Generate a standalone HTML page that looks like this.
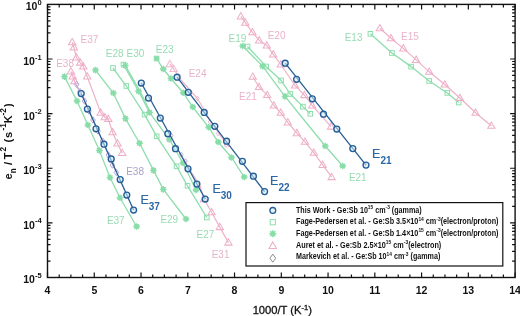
<!DOCTYPE html>
<html><head><meta charset="utf-8"><style>html,body{margin:0;padding:0;background:#fff;}svg{display:block;filter:blur(0.35px);}</style></head>
<body>
<svg width="520" height="316" viewBox="0 0 520 316">
<rect width="520" height="316" fill="#fff"/>
<polyline points="64.5,76.6 77.0,101.0 87.9,125.0 99.4,150.5 110.0,177.5 120.0,197.7 136.6,226.5" fill="none" stroke="#8edead" stroke-width="1.3" stroke-opacity="1"/>
<polyline points="95.5,70.1 113.3,93.0 125.5,118.6 139.6,143.3 153.5,170.4 163.3,189.4 186.0,219.0" fill="none" stroke="#8edead" stroke-width="1.3" stroke-opacity="1"/>
<polyline points="113.0,68.0 126.3,86.0 144.6,114.6 156.7,136.3 176.6,166.3 187.5,185.8 206.8,217.5" fill="none" stroke="#8edead" stroke-width="1.3" stroke-opacity="1"/>
<polyline points="123.5,64.6 138.6,91.2 149.5,112.5 169.4,139.5 183.0,163.0 196.0,190.0" fill="none" stroke="#8edead" stroke-width="1.3" stroke-opacity="1"/>
<polyline points="156.6,58.5 163.3,69.0 170.9,78.5 183.2,92.7 192.8,107.0 208.7,127.3 218.2,142.0 231.5,157.5 244.2,177.0" fill="none" stroke="#8edead" stroke-width="1.3" stroke-opacity="1"/>
<polyline points="247.5,46.5 266.1,66.5 281.1,80.5 290.3,94.0 302.9,106.6 310.3,113.8" fill="none" stroke="#8edead" stroke-width="1.3" stroke-opacity="1"/>
<polyline points="242.7,46.0 262.5,66.1 285.0,96.4 304.5,120.5 325.2,146.0 342.7,166.0" fill="none" stroke="#8edead" stroke-width="1.3" stroke-opacity="1"/>
<polyline points="370.4,33.8 391.9,53.0 411.1,66.6 429.2,81.0 447.3,92.9 458.7,102.5" fill="none" stroke="#8edead" stroke-width="1.3" stroke-opacity="1"/>
<circle cx="64.5" cy="76.6" r="2.31" fill="#88dda8"/>
<path d="M61.20,76.60L67.80,76.60M62.17,74.27L66.83,78.93M64.50,73.30L64.50,79.90M66.83,74.27L62.17,78.93" stroke="#88dda8" stroke-width="1.4"/>
<circle cx="77.0" cy="101.0" r="2.31" fill="#88dda8"/>
<path d="M73.70,101.00L80.30,101.00M74.67,98.67L79.33,103.33M77.00,97.70L77.00,104.30M79.33,98.67L74.67,103.33" stroke="#88dda8" stroke-width="1.4"/>
<circle cx="87.9" cy="125.0" r="2.31" fill="#88dda8"/>
<path d="M84.60,125.00L91.20,125.00M85.57,122.67L90.23,127.33M87.90,121.70L87.90,128.30M90.23,122.67L85.57,127.33" stroke="#88dda8" stroke-width="1.4"/>
<circle cx="99.4" cy="150.5" r="2.31" fill="#88dda8"/>
<path d="M96.10,150.50L102.70,150.50M97.07,148.17L101.73,152.83M99.40,147.20L99.40,153.80M101.73,148.17L97.07,152.83" stroke="#88dda8" stroke-width="1.4"/>
<circle cx="110.0" cy="177.5" r="2.31" fill="#88dda8"/>
<path d="M106.70,177.50L113.30,177.50M107.67,175.17L112.33,179.83M110.00,174.20L110.00,180.80M112.33,175.17L107.67,179.83" stroke="#88dda8" stroke-width="1.4"/>
<circle cx="120.0" cy="197.7" r="2.31" fill="#88dda8"/>
<path d="M116.70,197.70L123.30,197.70M117.67,195.37L122.33,200.03M120.00,194.40L120.00,201.00M122.33,195.37L117.67,200.03" stroke="#88dda8" stroke-width="1.4"/>
<circle cx="136.6" cy="226.5" r="2.31" fill="#88dda8"/>
<path d="M133.30,226.50L139.90,226.50M134.27,224.17L138.93,228.83M136.60,223.20L136.60,229.80M138.93,224.17L134.27,228.83" stroke="#88dda8" stroke-width="1.4"/>
<circle cx="95.5" cy="70.1" r="2.31" fill="#88dda8"/>
<path d="M92.20,70.10L98.80,70.10M93.17,67.77L97.83,72.43M95.50,66.80L95.50,73.40M97.83,67.77L93.17,72.43" stroke="#88dda8" stroke-width="1.4"/>
<circle cx="113.3" cy="93.0" r="2.31" fill="#88dda8"/>
<path d="M110.00,93.00L116.60,93.00M110.97,90.67L115.63,95.33M113.30,89.70L113.30,96.30M115.63,90.67L110.97,95.33" stroke="#88dda8" stroke-width="1.4"/>
<circle cx="125.5" cy="118.6" r="2.31" fill="#88dda8"/>
<path d="M122.20,118.60L128.80,118.60M123.17,116.27L127.83,120.93M125.50,115.30L125.50,121.90M127.83,116.27L123.17,120.93" stroke="#88dda8" stroke-width="1.4"/>
<circle cx="139.6" cy="143.3" r="2.31" fill="#88dda8"/>
<path d="M136.30,143.30L142.90,143.30M137.27,140.97L141.93,145.63M139.60,140.00L139.60,146.60M141.93,140.97L137.27,145.63" stroke="#88dda8" stroke-width="1.4"/>
<circle cx="153.5" cy="170.4" r="2.31" fill="#88dda8"/>
<path d="M150.20,170.40L156.80,170.40M151.17,168.07L155.83,172.73M153.50,167.10L153.50,173.70M155.83,168.07L151.17,172.73" stroke="#88dda8" stroke-width="1.4"/>
<circle cx="163.3" cy="189.4" r="2.31" fill="#88dda8"/>
<path d="M160.00,189.40L166.60,189.40M160.97,187.07L165.63,191.73M163.30,186.10L163.30,192.70M165.63,187.07L160.97,191.73" stroke="#88dda8" stroke-width="1.4"/>
<circle cx="186.0" cy="219.0" r="2.31" fill="#88dda8"/>
<path d="M182.70,219.00L189.30,219.00M183.67,216.67L188.33,221.33M186.00,215.70L186.00,222.30M188.33,216.67L183.67,221.33" stroke="#88dda8" stroke-width="1.4"/>
<rect x="110.7" y="65.7" width="4.6" height="4.6" fill="none" stroke="#8edead" stroke-width="1.0"/>
<rect x="124.0" y="83.7" width="4.6" height="4.6" fill="none" stroke="#8edead" stroke-width="1.0"/>
<rect x="142.3" y="112.3" width="4.6" height="4.6" fill="none" stroke="#8edead" stroke-width="1.0"/>
<rect x="154.4" y="134.0" width="4.6" height="4.6" fill="none" stroke="#8edead" stroke-width="1.0"/>
<rect x="174.3" y="164.0" width="4.6" height="4.6" fill="none" stroke="#8edead" stroke-width="1.0"/>
<rect x="185.2" y="183.5" width="4.6" height="4.6" fill="none" stroke="#8edead" stroke-width="1.0"/>
<rect x="204.5" y="215.2" width="4.6" height="4.6" fill="none" stroke="#8edead" stroke-width="1.0"/>
<rect x="121.2" y="62.3" width="4.6" height="4.6" fill="none" stroke="#8edead" stroke-width="1.0"/>
<circle cx="125.3" cy="65.6" r="2.31" fill="#88dda8"/>
<path d="M122.00,65.60L128.60,65.60M122.97,63.27L127.63,67.93M125.30,62.30L125.30,68.90M127.63,63.27L122.97,67.93" stroke="#88dda8" stroke-width="1.4"/>
<circle cx="138.6" cy="91.2" r="2.31" fill="#88dda8"/>
<path d="M135.30,91.20L141.90,91.20M136.27,88.87L140.93,93.53M138.60,87.90L138.60,94.50M140.93,88.87L136.27,93.53" stroke="#88dda8" stroke-width="1.4"/>
<circle cx="149.5" cy="112.5" r="2.31" fill="#88dda8"/>
<path d="M146.20,112.50L152.80,112.50M147.17,110.17L151.83,114.83M149.50,109.20L149.50,115.80M151.83,110.17L147.17,114.83" stroke="#88dda8" stroke-width="1.4"/>
<circle cx="169.4" cy="139.5" r="2.31" fill="#88dda8"/>
<path d="M166.10,139.50L172.70,139.50M167.07,137.17L171.73,141.83M169.40,136.20L169.40,142.80M171.73,137.17L167.07,141.83" stroke="#88dda8" stroke-width="1.4"/>
<circle cx="183.0" cy="163.0" r="2.31" fill="#88dda8"/>
<path d="M179.70,163.00L186.30,163.00M180.67,160.67L185.33,165.33M183.00,159.70L183.00,166.30M185.33,160.67L180.67,165.33" stroke="#88dda8" stroke-width="1.4"/>
<circle cx="196.0" cy="190.0" r="2.31" fill="#88dda8"/>
<path d="M192.70,190.00L199.30,190.00M193.67,187.67L198.33,192.33M196.00,186.70L196.00,193.30M198.33,187.67L193.67,192.33" stroke="#88dda8" stroke-width="1.4"/>
<polyline points="125.3,65.6 140.2,91.6 150.5,112.5" fill="none" stroke="#8edead" stroke-width="1.3" stroke-opacity="1"/>
<rect x="154.3" y="56.2" width="4.6" height="4.6" fill="#88dda8" stroke="#8edead" stroke-width="1.0"/>
<circle cx="163.3" cy="69.0" r="2.31" fill="#88dda8"/>
<path d="M160.00,69.00L166.60,69.00M160.97,66.67L165.63,71.33M163.30,65.70L163.30,72.30M165.63,66.67L160.97,71.33" stroke="#88dda8" stroke-width="1.4"/>
<circle cx="170.9" cy="78.5" r="2.31" fill="#88dda8"/>
<path d="M167.60,78.50L174.20,78.50M168.57,76.17L173.23,80.83M170.90,75.20L170.90,81.80M173.23,76.17L168.57,80.83" stroke="#88dda8" stroke-width="1.4"/>
<circle cx="183.2" cy="92.7" r="2.31" fill="#88dda8"/>
<path d="M179.90,92.70L186.50,92.70M180.87,90.37L185.53,95.03M183.20,89.40L183.20,96.00M185.53,90.37L180.87,95.03" stroke="#88dda8" stroke-width="1.4"/>
<circle cx="192.8" cy="107.0" r="2.31" fill="#88dda8"/>
<path d="M189.50,107.00L196.10,107.00M190.47,104.67L195.13,109.33M192.80,103.70L192.80,110.30M195.13,104.67L190.47,109.33" stroke="#88dda8" stroke-width="1.4"/>
<circle cx="208.7" cy="127.3" r="2.31" fill="#88dda8"/>
<path d="M205.40,127.30L212.00,127.30M206.37,124.97L211.03,129.63M208.70,124.00L208.70,130.60M211.03,124.97L206.37,129.63" stroke="#88dda8" stroke-width="1.4"/>
<circle cx="218.2" cy="142.0" r="2.31" fill="#88dda8"/>
<path d="M214.90,142.00L221.50,142.00M215.87,139.67L220.53,144.33M218.20,138.70L218.20,145.30M220.53,139.67L215.87,144.33" stroke="#88dda8" stroke-width="1.4"/>
<circle cx="231.5" cy="157.5" r="2.31" fill="#88dda8"/>
<path d="M228.20,157.50L234.80,157.50M229.17,155.17L233.83,159.83M231.50,154.20L231.50,160.80M233.83,155.17L229.17,159.83" stroke="#88dda8" stroke-width="1.4"/>
<circle cx="244.2" cy="177.0" r="2.31" fill="#88dda8"/>
<path d="M240.90,177.00L247.50,177.00M241.87,174.67L246.53,179.33M244.20,173.70L244.20,180.30M246.53,174.67L241.87,179.33" stroke="#88dda8" stroke-width="1.4"/>
<rect x="245.2" y="44.2" width="4.6" height="4.6" fill="none" stroke="#8edead" stroke-width="1.0"/>
<rect x="263.8" y="64.2" width="4.6" height="4.6" fill="none" stroke="#8edead" stroke-width="1.0"/>
<rect x="278.8" y="78.2" width="4.6" height="4.6" fill="none" stroke="#8edead" stroke-width="1.0"/>
<rect x="288.0" y="91.7" width="4.6" height="4.6" fill="none" stroke="#8edead" stroke-width="1.0"/>
<rect x="300.6" y="104.3" width="4.6" height="4.6" fill="none" stroke="#8edead" stroke-width="1.0"/>
<rect x="308.0" y="111.5" width="4.6" height="4.6" fill="none" stroke="#8edead" stroke-width="1.0"/>
<circle cx="242.7" cy="46.0" r="2.31" fill="#88dda8"/>
<path d="M239.40,46.00L246.00,46.00M240.37,43.67L245.03,48.33M242.70,42.70L242.70,49.30M245.03,43.67L240.37,48.33" stroke="#88dda8" stroke-width="1.4"/>
<circle cx="262.5" cy="66.1" r="2.31" fill="#88dda8"/>
<path d="M259.20,66.10L265.80,66.10M260.17,63.77L264.83,68.43M262.50,62.80L262.50,69.40M264.83,63.77L260.17,68.43" stroke="#88dda8" stroke-width="1.4"/>
<circle cx="285.0" cy="96.4" r="2.31" fill="#88dda8"/>
<path d="M281.70,96.40L288.30,96.40M282.67,94.07L287.33,98.73M285.00,93.10L285.00,99.70M287.33,94.07L282.67,98.73" stroke="#88dda8" stroke-width="1.4"/>
<circle cx="325.2" cy="146.0" r="2.31" fill="#88dda8"/>
<path d="M321.90,146.00L328.50,146.00M322.87,143.67L327.53,148.33M325.20,142.70L325.20,149.30M327.53,143.67L322.87,148.33" stroke="#88dda8" stroke-width="1.4"/>
<circle cx="342.7" cy="166.0" r="2.31" fill="#88dda8"/>
<path d="M339.40,166.00L346.00,166.00M340.37,163.67L345.03,168.33M342.70,162.70L342.70,169.30M345.03,163.67L340.37,168.33" stroke="#88dda8" stroke-width="1.4"/>
<rect x="368.1" y="31.5" width="4.6" height="4.6" fill="none" stroke="#8edead" stroke-width="1.0"/>
<rect x="389.6" y="50.7" width="4.6" height="4.6" fill="none" stroke="#8edead" stroke-width="1.0"/>
<rect x="408.8" y="64.3" width="4.6" height="4.6" fill="none" stroke="#8edead" stroke-width="1.0"/>
<rect x="426.9" y="78.7" width="4.6" height="4.6" fill="none" stroke="#8edead" stroke-width="1.0"/>
<rect x="445.0" y="90.6" width="4.6" height="4.6" fill="none" stroke="#8edead" stroke-width="1.0"/>
<rect x="456.4" y="100.2" width="4.6" height="4.6" fill="none" stroke="#8edead" stroke-width="1.0"/>
<polyline points="72.2,42.3 73.9,47.5 76.4,57.5 80.2,62.6 83.3,66.5 87.2,76.5 100.7,112.7 104.8,117.3 108.3,119.0 112.6,132.3 117.4,143.4 122.2,153.0" fill="none" stroke="#eeb0c7" stroke-width="1.15" stroke-opacity="1"/>
<polyline points="169.9,64.2 173.7,69.0 181.0,80.0 197.5,98.5 210.0,120.0 221.0,136.4 229.0,147.0" fill="none" stroke="#eeb0c7" stroke-width="1.15" stroke-opacity="1"/>
<polyline points="178.0,150.0 190.0,170.0 200.0,186.0 204.1,199.2 211.6,212.3 219.8,227.1 228.4,242.6" fill="none" stroke="#eeb0c7" stroke-width="1.15" stroke-opacity="1"/>
<polyline points="240.8,16.4 245.3,22.7 252.4,32.3 259.2,40.4 266.8,45.5 273.2,54.4 280.8,64.5 295.0,85.5 304.4,95.1 312.2,105.5 331.0,126.6" fill="none" stroke="#eeb0c7" stroke-width="1.15" stroke-opacity="1"/>
<polyline points="252.8,76.8 259.0,87.0 267.2,95.0 273.8,105.5 280.8,112.8 287.8,122.4 296.9,133.2 305.0,141.8 313.8,152.7 322.7,164.9 331.6,177.1" fill="none" stroke="#eeb0c7" stroke-width="1.15" stroke-opacity="1"/>
<polyline points="379.9,28.3 391.0,38.3 403.3,48.4 416.2,59.9 429.2,71.8 444.8,84.5 459.9,98.0 475.6,112.7 491.3,125.8" fill="none" stroke="#eeb0c7" stroke-width="1.15" stroke-opacity="1"/>
<polyline points="70.9,71.5 72.7,76.5 74.6,81.2 78.5,90.0" fill="none" stroke="#eeb0c7" stroke-width="1.15" stroke-opacity="1"/>
<path d="M72.2,38.5L75.9,44.8L68.5,44.8Z" fill="none" stroke="#eeb0c7" stroke-width="1.05"/>
<path d="M73.9,43.7L77.6,50.0L70.2,50.0Z" fill="none" stroke="#eeb0c7" stroke-width="1.05"/>
<path d="M76.4,53.7L80.1,60.0L72.8,60.0Z" fill="none" stroke="#eeb0c7" stroke-width="1.05"/>
<path d="M80.2,58.8L83.9,65.1L76.5,65.1Z" fill="none" stroke="#eeb0c7" stroke-width="1.05"/>
<path d="M83.3,62.7L87.0,69.0L79.6,69.0Z" fill="none" stroke="#eeb0c7" stroke-width="1.05"/>
<path d="M87.2,72.7L90.9,79.0L83.5,79.0Z" fill="none" stroke="#eeb0c7" stroke-width="1.05"/>
<path d="M100.7,108.9L104.4,115.2L97.0,115.2Z" fill="none" stroke="#eeb0c7" stroke-width="1.05"/>
<path d="M104.8,113.5L108.5,119.8L101.1,119.8Z" fill="none" stroke="#eeb0c7" stroke-width="1.05"/>
<path d="M108.3,115.2L112.0,121.5L104.6,121.5Z" fill="none" stroke="#eeb0c7" stroke-width="1.05"/>
<path d="M112.6,128.5L116.2,134.8L108.9,134.8Z" fill="none" stroke="#eeb0c7" stroke-width="1.05"/>
<path d="M117.4,139.6L121.1,145.9L113.8,145.9Z" fill="none" stroke="#eeb0c7" stroke-width="1.05"/>
<path d="M122.2,149.2L125.9,155.5L118.5,155.5Z" fill="none" stroke="#eeb0c7" stroke-width="1.05"/>
<path d="M70.9,67.7L74.6,74.0L67.2,74.0Z" fill="none" stroke="#eeb0c7" stroke-width="1.05"/>
<path d="M72.7,72.7L76.4,79.0L69.0,79.0Z" fill="none" stroke="#eeb0c7" stroke-width="1.05"/>
<path d="M74.6,77.4L78.2,83.7L70.9,83.7Z" fill="none" stroke="#eeb0c7" stroke-width="1.05"/>
<path d="M240.8,12.6L244.5,18.9L237.2,18.9Z" fill="none" stroke="#eeb0c7" stroke-width="1.05"/>
<path d="M245.3,18.9L249.0,25.2L241.7,25.2Z" fill="none" stroke="#eeb0c7" stroke-width="1.05"/>
<path d="M252.4,28.5L256.1,34.8L248.8,34.8Z" fill="none" stroke="#eeb0c7" stroke-width="1.05"/>
<path d="M259.2,36.6L262.8,42.9L255.5,42.9Z" fill="none" stroke="#eeb0c7" stroke-width="1.05"/>
<path d="M266.8,41.7L270.4,48.0L263.2,48.0Z" fill="none" stroke="#eeb0c7" stroke-width="1.05"/>
<path d="M273.2,50.6L276.8,56.9L269.6,56.9Z" fill="none" stroke="#eeb0c7" stroke-width="1.05"/>
<path d="M280.8,60.7L284.4,67.0L277.2,67.0Z" fill="none" stroke="#eeb0c7" stroke-width="1.05"/>
<path d="M295.0,81.7L298.6,88.0L291.4,88.0Z" fill="none" stroke="#eeb0c7" stroke-width="1.05"/>
<path d="M304.4,91.3L308.0,97.6L300.8,97.6Z" fill="none" stroke="#eeb0c7" stroke-width="1.05"/>
<path d="M312.2,101.7L315.8,108.0L308.6,108.0Z" fill="none" stroke="#eeb0c7" stroke-width="1.05"/>
<path d="M331.0,122.8L334.6,129.1L327.4,129.1Z" fill="none" stroke="#eeb0c7" stroke-width="1.05"/>
<path d="M252.8,73.0L256.4,79.3L249.2,79.3Z" fill="none" stroke="#eeb0c7" stroke-width="1.05"/>
<path d="M259.0,83.2L262.6,89.5L255.3,89.5Z" fill="none" stroke="#eeb0c7" stroke-width="1.05"/>
<path d="M267.2,91.2L270.8,97.5L263.6,97.5Z" fill="none" stroke="#eeb0c7" stroke-width="1.05"/>
<path d="M273.8,101.7L277.4,108.0L270.2,108.0Z" fill="none" stroke="#eeb0c7" stroke-width="1.05"/>
<path d="M280.8,109.0L284.4,115.3L277.2,115.3Z" fill="none" stroke="#eeb0c7" stroke-width="1.05"/>
<path d="M287.8,118.6L291.4,124.9L284.2,124.9Z" fill="none" stroke="#eeb0c7" stroke-width="1.05"/>
<path d="M296.9,129.4L300.5,135.7L293.2,135.7Z" fill="none" stroke="#eeb0c7" stroke-width="1.05"/>
<path d="M305.0,138.0L308.6,144.3L301.4,144.3Z" fill="none" stroke="#eeb0c7" stroke-width="1.05"/>
<path d="M313.8,148.9L317.4,155.2L310.2,155.2Z" fill="none" stroke="#eeb0c7" stroke-width="1.05"/>
<path d="M322.7,161.1L326.3,167.4L319.1,167.4Z" fill="none" stroke="#eeb0c7" stroke-width="1.05"/>
<path d="M331.6,173.3L335.2,179.6L328.0,179.6Z" fill="none" stroke="#eeb0c7" stroke-width="1.05"/>
<path d="M379.9,24.5L383.5,30.8L376.2,30.8Z" fill="none" stroke="#eeb0c7" stroke-width="1.05"/>
<path d="M391.0,34.5L394.6,40.8L387.4,40.8Z" fill="none" stroke="#eeb0c7" stroke-width="1.05"/>
<path d="M403.3,44.6L406.9,50.9L399.7,50.9Z" fill="none" stroke="#eeb0c7" stroke-width="1.05"/>
<path d="M416.2,56.1L419.8,62.4L412.6,62.4Z" fill="none" stroke="#eeb0c7" stroke-width="1.05"/>
<path d="M429.2,68.0L432.8,74.3L425.6,74.3Z" fill="none" stroke="#eeb0c7" stroke-width="1.05"/>
<path d="M444.8,80.7L448.4,87.0L441.2,87.0Z" fill="none" stroke="#eeb0c7" stroke-width="1.05"/>
<path d="M459.9,94.2L463.5,100.5L456.2,100.5Z" fill="none" stroke="#eeb0c7" stroke-width="1.05"/>
<path d="M475.6,108.9L479.2,115.2L472.0,115.2Z" fill="none" stroke="#eeb0c7" stroke-width="1.05"/>
<path d="M491.3,122.0L494.9,128.3L487.7,128.3Z" fill="none" stroke="#eeb0c7" stroke-width="1.05"/>
<path d="M169.9,60.4L173.6,66.7L166.2,66.7Z" fill="none" stroke="#f0bcd0" stroke-width="1.05"/>
<path d="M173.7,65.2L177.3,71.5L170.0,71.5Z" fill="none" stroke="#f0bcd0" stroke-width="1.05"/>
<path d="M204.1,195.4L207.8,201.7L200.4,201.7Z" fill="none" stroke="#eeb0c7" stroke-width="1.05"/>
<path d="M211.6,208.5L215.2,214.8L207.9,214.8Z" fill="none" stroke="#eeb0c7" stroke-width="1.05"/>
<path d="M219.8,223.3L223.5,229.6L216.2,229.6Z" fill="none" stroke="#eeb0c7" stroke-width="1.05"/>
<path d="M228.4,238.8L232.1,245.1L224.8,245.1Z" fill="none" stroke="#eeb0c7" stroke-width="1.05"/>
<path d="M197.5,96.1L199.2,98.5L197.5,100.9L195.8,98.5Z" fill="none" stroke="#e7b5cc" stroke-width="0.9"/>
<path d="M210.0,119.6L211.7,122.0L210.0,124.4L208.3,122.0Z" fill="none" stroke="#e7b5cc" stroke-width="0.9"/>
<path d="M218.0,131.1L219.7,133.5L218.0,135.9L216.3,133.5Z" fill="none" stroke="#e7b5cc" stroke-width="0.9"/>
<path d="M226.0,142.6L227.7,145.0L226.0,147.4L224.3,145.0Z" fill="none" stroke="#e7b5cc" stroke-width="0.9"/>
<path d="M171.3,133.2L173.0,135.6L171.3,138.0L169.6,135.6Z" fill="none" stroke="#b8a8d6" stroke-width="0.9"/>
<path d="M181.4,152.3L183.1,154.7L181.4,157.1L179.7,154.7Z" fill="none" stroke="#b8a8d6" stroke-width="0.9"/>
<path d="M185.5,158.6L187.2,161.0L185.5,163.4L183.8,161.0Z" fill="none" stroke="#b8a8d6" stroke-width="0.9"/>
<polyline points="76.6,84.4 80.0,91.5 84.5,101.0 89.0,111.0 93.0,120.0 98.0,131.0 102.5,141.0 108.4,155.0 112.4,165.0 116.4,172.4" fill="none" stroke="#b2a9d2" stroke-width="0.8" stroke-opacity="1"/>
<path d="M76.6,81.2L78.9,84.4L76.6,87.6L74.3,84.4Z" fill="none" stroke="#b2a9d2" stroke-width="1.0"/>
<path d="M80.0,88.3L82.3,91.5L80.0,94.7L77.7,91.5Z" fill="none" stroke="#b2a9d2" stroke-width="1.0"/>
<path d="M84.5,97.8L86.8,101.0L84.5,104.2L82.2,101.0Z" fill="none" stroke="#b2a9d2" stroke-width="1.0"/>
<path d="M89.0,107.8L91.3,111.0L89.0,114.2L86.7,111.0Z" fill="none" stroke="#b2a9d2" stroke-width="1.0"/>
<path d="M93.0,116.8L95.3,120.0L93.0,123.2L90.7,120.0Z" fill="none" stroke="#b2a9d2" stroke-width="1.0"/>
<path d="M98.0,127.8L100.3,131.0L98.0,134.2L95.7,131.0Z" fill="none" stroke="#b2a9d2" stroke-width="1.0"/>
<path d="M102.5,137.8L104.8,141.0L102.5,144.2L100.2,141.0Z" fill="none" stroke="#b2a9d2" stroke-width="1.0"/>
<path d="M108.4,151.8L110.7,155.0L108.4,158.2L106.1,155.0Z" fill="none" stroke="#b2a9d2" stroke-width="1.0"/>
<path d="M112.4,161.8L114.7,165.0L112.4,168.2L110.1,165.0Z" fill="none" stroke="#b2a9d2" stroke-width="1.0"/>
<path d="M116.4,169.2L118.7,172.4L116.4,175.6L114.1,172.4Z" fill="none" stroke="#b2a9d2" stroke-width="1.0"/>
<polyline points="81.2,93.5 133.6,210.0" fill="none" stroke="#255d96" stroke-width="1.3" stroke-opacity="1"/>
<circle cx="81.2" cy="93.5" r="2.95" fill="#c6eaf8" fill-opacity="0.55" stroke="#255d96" stroke-width="1.35"/>
<circle cx="87.4" cy="109.0" r="2.95" fill="#c6eaf8" fill-opacity="0.55" stroke="#255d96" stroke-width="1.35"/>
<circle cx="96.0" cy="128.8" r="2.95" fill="#c6eaf8" fill-opacity="0.55" stroke="#255d96" stroke-width="1.35"/>
<circle cx="104.0" cy="144.2" r="2.95" fill="#c6eaf8" fill-opacity="0.55" stroke="#255d96" stroke-width="1.35"/>
<circle cx="111.2" cy="158.9" r="2.95" fill="#c6eaf8" fill-opacity="0.55" stroke="#255d96" stroke-width="1.35"/>
<circle cx="120.2" cy="179.5" r="2.95" fill="#c6eaf8" fill-opacity="0.55" stroke="#255d96" stroke-width="1.35"/>
<circle cx="126.8" cy="195.0" r="2.95" fill="#c6eaf8" fill-opacity="0.55" stroke="#255d96" stroke-width="1.35"/>
<circle cx="133.6" cy="210.0" r="2.95" fill="#c6eaf8" fill-opacity="0.55" stroke="#255d96" stroke-width="1.35"/>
<polyline points="141.3,83.0 205.2,199.0" fill="none" stroke="#255d96" stroke-width="1.3" stroke-opacity="1"/>
<circle cx="141.3" cy="83.0" r="2.95" fill="#c6eaf8" fill-opacity="0.55" stroke="#255d96" stroke-width="1.35"/>
<circle cx="148.5" cy="98.0" r="2.95" fill="#c6eaf8" fill-opacity="0.55" stroke="#255d96" stroke-width="1.35"/>
<circle cx="160.3" cy="118.0" r="2.95" fill="#c6eaf8" fill-opacity="0.55" stroke="#255d96" stroke-width="1.35"/>
<circle cx="167.8" cy="133.7" r="2.95" fill="#c6eaf8" fill-opacity="0.55" stroke="#255d96" stroke-width="1.35"/>
<circle cx="175.5" cy="148.7" r="2.95" fill="#c6eaf8" fill-opacity="0.55" stroke="#255d96" stroke-width="1.35"/>
<circle cx="188.0" cy="168.8" r="2.95" fill="#c6eaf8" fill-opacity="0.55" stroke="#255d96" stroke-width="1.35"/>
<circle cx="196.9" cy="184.0" r="2.95" fill="#c6eaf8" fill-opacity="0.55" stroke="#255d96" stroke-width="1.35"/>
<circle cx="205.2" cy="199.0" r="2.95" fill="#c6eaf8" fill-opacity="0.55" stroke="#255d96" stroke-width="1.35"/>
<polyline points="177.1,77.2 264.6,191.6" fill="none" stroke="#255d96" stroke-width="1.3" stroke-opacity="1"/>
<circle cx="177.1" cy="77.2" r="2.95" fill="#c6eaf8" fill-opacity="0.55" stroke="#255d96" stroke-width="1.35"/>
<circle cx="188.3" cy="92.3" r="2.95" fill="#c6eaf8" fill-opacity="0.55" stroke="#255d96" stroke-width="1.35"/>
<circle cx="204.2" cy="112.4" r="2.95" fill="#c6eaf8" fill-opacity="0.55" stroke="#255d96" stroke-width="1.35"/>
<circle cx="214.8" cy="126.3" r="2.95" fill="#c6eaf8" fill-opacity="0.55" stroke="#255d96" stroke-width="1.35"/>
<circle cx="226.6" cy="141.2" r="2.95" fill="#c6eaf8" fill-opacity="0.55" stroke="#255d96" stroke-width="1.35"/>
<circle cx="242.4" cy="161.3" r="2.95" fill="#c6eaf8" fill-opacity="0.55" stroke="#255d96" stroke-width="1.35"/>
<circle cx="253.4" cy="176.2" r="2.95" fill="#c6eaf8" fill-opacity="0.55" stroke="#255d96" stroke-width="1.35"/>
<circle cx="264.6" cy="191.6" r="2.95" fill="#c6eaf8" fill-opacity="0.55" stroke="#255d96" stroke-width="1.35"/>
<polyline points="285.2,63.2 366.0,165.1" fill="none" stroke="#255d96" stroke-width="1.3" stroke-opacity="1"/>
<circle cx="285.2" cy="63.2" r="2.95" fill="#c6eaf8" fill-opacity="0.55" stroke="#255d96" stroke-width="1.35"/>
<circle cx="296.6" cy="79.3" r="2.95" fill="#c6eaf8" fill-opacity="0.55" stroke="#255d96" stroke-width="1.35"/>
<circle cx="312.3" cy="98.8" r="2.95" fill="#c6eaf8" fill-opacity="0.55" stroke="#255d96" stroke-width="1.35"/>
<circle cx="323.5" cy="114.2" r="2.95" fill="#c6eaf8" fill-opacity="0.55" stroke="#255d96" stroke-width="1.35"/>
<circle cx="336.8" cy="129.0" r="2.95" fill="#c6eaf8" fill-opacity="0.55" stroke="#255d96" stroke-width="1.35"/>
<circle cx="352.8" cy="148.6" r="2.95" fill="#c6eaf8" fill-opacity="0.55" stroke="#255d96" stroke-width="1.35"/>
<circle cx="366.0" cy="165.1" r="2.95" fill="#c6eaf8" fill-opacity="0.55" stroke="#255d96" stroke-width="1.35"/>
<rect x="47.5" y="4.4" width="467.6" height="273.1" fill="none" stroke="#111" stroke-width="1.4"/>
<path d="M47.50,277.50v-5M47.50,4.40v5M59.19,277.50v-3M59.19,4.40v3M70.88,277.50v-3M70.88,4.40v3M82.57,277.50v-3M82.57,4.40v3M94.26,277.50v-5M94.26,4.40v5M105.95,277.50v-3M105.95,4.40v3M117.64,277.50v-3M117.64,4.40v3M129.33,277.50v-3M129.33,4.40v3M141.02,277.50v-5M141.02,4.40v5M152.71,277.50v-3M152.71,4.40v3M164.40,277.50v-3M164.40,4.40v3M176.09,277.50v-3M176.09,4.40v3M187.78,277.50v-5M187.78,4.40v5M199.47,277.50v-3M199.47,4.40v3M211.16,277.50v-3M211.16,4.40v3M222.85,277.50v-3M222.85,4.40v3M234.54,277.50v-5M234.54,4.40v5M246.23,277.50v-3M246.23,4.40v3M257.92,277.50v-3M257.92,4.40v3M269.61,277.50v-3M269.61,4.40v3M281.30,277.50v-5M281.30,4.40v5M292.99,277.50v-3M292.99,4.40v3M304.68,277.50v-3M304.68,4.40v3M316.37,277.50v-3M316.37,4.40v3M328.06,277.50v-5M328.06,4.40v5M339.75,277.50v-3M339.75,4.40v3M351.44,277.50v-3M351.44,4.40v3M363.13,277.50v-3M363.13,4.40v3M374.82,277.50v-5M374.82,4.40v5M386.51,277.50v-3M386.51,4.40v3M398.20,277.50v-3M398.20,4.40v3M409.89,277.50v-3M409.89,4.40v3M421.58,277.50v-5M421.58,4.40v5M433.27,277.50v-3M433.27,4.40v3M444.96,277.50v-3M444.96,4.40v3M456.65,277.50v-3M456.65,4.40v3M468.34,277.50v-5M468.34,4.40v5M480.03,277.50v-3M480.03,4.40v3M491.72,277.50v-3M491.72,4.40v3M503.41,277.50v-3M503.41,4.40v3M515.10,277.50v-5M515.10,4.40v5M47.50,59.02h5M515.10,59.02h-5M47.50,42.58h3M515.10,42.58h-3M47.50,32.96h3M515.10,32.96h-3M47.50,26.14h3M515.10,26.14h-3M47.50,20.84h3M515.10,20.84h-3M47.50,16.52h3M515.10,16.52h-3M47.50,12.86h3M515.10,12.86h-3M47.50,9.69h3M515.10,9.69h-3M47.50,6.90h3M515.10,6.90h-3M47.50,113.64h5M515.10,113.64h-5M47.50,97.20h3M515.10,97.20h-3M47.50,87.58h3M515.10,87.58h-3M47.50,80.76h3M515.10,80.76h-3M47.50,75.46h3M515.10,75.46h-3M47.50,71.14h3M515.10,71.14h-3M47.50,67.48h3M515.10,67.48h-3M47.50,64.31h3M515.10,64.31h-3M47.50,61.52h3M515.10,61.52h-3M47.50,168.26h5M515.10,168.26h-5M47.50,151.82h3M515.10,151.82h-3M47.50,142.20h3M515.10,142.20h-3M47.50,135.38h3M515.10,135.38h-3M47.50,130.08h3M515.10,130.08h-3M47.50,125.76h3M515.10,125.76h-3M47.50,122.10h3M515.10,122.10h-3M47.50,118.93h3M515.10,118.93h-3M47.50,116.14h3M515.10,116.14h-3M47.50,222.88h5M515.10,222.88h-5M47.50,206.44h3M515.10,206.44h-3M47.50,196.82h3M515.10,196.82h-3M47.50,190.00h3M515.10,190.00h-3M47.50,184.70h3M515.10,184.70h-3M47.50,180.38h3M515.10,180.38h-3M47.50,176.72h3M515.10,176.72h-3M47.50,173.55h3M515.10,173.55h-3M47.50,170.76h3M515.10,170.76h-3M47.50,277.50h5M515.10,277.50h-5M47.50,261.06h3M515.10,261.06h-3M47.50,251.44h3M515.10,251.44h-3M47.50,244.62h3M515.10,244.62h-3M47.50,239.32h3M515.10,239.32h-3M47.50,235.00h3M515.10,235.00h-3M47.50,231.34h3M515.10,231.34h-3M47.50,228.17h3M515.10,228.17h-3M47.50,225.38h3M515.10,225.38h-3" stroke="#111" stroke-width="1.2" fill="none"/>
<text x="47.5" y="293.6" font-family="Liberation Sans, Arial, sans-serif" font-size="10.5" font-weight="bold" text-anchor="middle" fill="#111">4</text>
<text x="94.3" y="293.6" font-family="Liberation Sans, Arial, sans-serif" font-size="10.5" font-weight="bold" text-anchor="middle" fill="#111">5</text>
<text x="141.0" y="293.6" font-family="Liberation Sans, Arial, sans-serif" font-size="10.5" font-weight="bold" text-anchor="middle" fill="#111">6</text>
<text x="187.8" y="293.6" font-family="Liberation Sans, Arial, sans-serif" font-size="10.5" font-weight="bold" text-anchor="middle" fill="#111">7</text>
<text x="234.5" y="293.6" font-family="Liberation Sans, Arial, sans-serif" font-size="10.5" font-weight="bold" text-anchor="middle" fill="#111">8</text>
<text x="281.3" y="293.6" font-family="Liberation Sans, Arial, sans-serif" font-size="10.5" font-weight="bold" text-anchor="middle" fill="#111">9</text>
<text x="328.1" y="293.6" font-family="Liberation Sans, Arial, sans-serif" font-size="10.5" font-weight="bold" text-anchor="middle" fill="#111">10</text>
<text x="374.8" y="293.6" font-family="Liberation Sans, Arial, sans-serif" font-size="10.5" font-weight="bold" text-anchor="middle" fill="#111">11</text>
<text x="421.6" y="293.6" font-family="Liberation Sans, Arial, sans-serif" font-size="10.5" font-weight="bold" text-anchor="middle" fill="#111">12</text>
<text x="468.3" y="293.6" font-family="Liberation Sans, Arial, sans-serif" font-size="10.5" font-weight="bold" text-anchor="middle" fill="#111">13</text>
<text x="515.1" y="293.6" font-family="Liberation Sans, Arial, sans-serif" font-size="10.5" font-weight="bold" text-anchor="middle" fill="#111">14</text>
<text x="41.6" y="10.3" font-family="Liberation Sans, Arial, sans-serif" font-size="10.5" font-weight="bold" text-anchor="end" fill="#111">10<tspan font-size="7.5" dy="-5.4">0</tspan></text>
<text x="41.6" y="64.9" font-family="Liberation Sans, Arial, sans-serif" font-size="10.5" font-weight="bold" text-anchor="end" fill="#111">10<tspan font-size="7.5" dy="-5.4">-1</tspan></text>
<text x="41.6" y="119.5" font-family="Liberation Sans, Arial, sans-serif" font-size="10.5" font-weight="bold" text-anchor="end" fill="#111">10<tspan font-size="7.5" dy="-5.4">-2</tspan></text>
<text x="41.6" y="174.2" font-family="Liberation Sans, Arial, sans-serif" font-size="10.5" font-weight="bold" text-anchor="end" fill="#111">10<tspan font-size="7.5" dy="-5.4">-3</tspan></text>
<text x="41.6" y="228.8" font-family="Liberation Sans, Arial, sans-serif" font-size="10.5" font-weight="bold" text-anchor="end" fill="#111">10<tspan font-size="7.5" dy="-5.4">-4</tspan></text>
<text x="41.6" y="283.4" font-family="Liberation Sans, Arial, sans-serif" font-size="10.5" font-weight="bold" text-anchor="end" fill="#111">10<tspan font-size="7.5" dy="-5.4">-5</tspan></text>
<text x="282.3" y="313.9" font-family="Liberation Sans, Arial, sans-serif" font-size="11.2" text-anchor="middle" fill="#111" stroke="#111" stroke-width="0.3">1000/T (K<tspan font-size="7.5" dy="-4.3">-1</tspan><tspan dy="4.3">)</tspan></text>
<text transform="translate(11.8,0) rotate(-90)" font-family="Liberation Sans, Arial, sans-serif" font-weight="bold" fill="#111"><tspan x="-179.6" y="0" font-size="11">e</tspan><tspan x="-173.2" y="4.2" font-size="8.2">n</tspan><tspan x="-164.9" y="0" font-size="11">/</tspan><tspan x="-159.2" y="0" font-size="11">T</tspan><tspan x="-151.6" y="-5.4" font-size="8.2">2</tspan><tspan x="-142.6" y="0" font-size="11">(</tspan><tspan x="-138.0" y="0" font-size="11">s</tspan><tspan x="-130.4" y="-5.4" font-size="8.2">-1</tspan><tspan x="-123.3" y="0" font-size="11">K</tspan><tspan x="-115.4" y="-5.4" font-size="8.2">-2</tspan><tspan x="-106.9" y="0" font-size="11">)</tspan></text>
<text x="80.6" y="42.6" font-family="Liberation Sans, Arial, sans-serif" font-size="10" fill="#e8b3ca">E37</text>
<text x="56.2" y="67.3" font-family="Liberation Sans, Arial, sans-serif" font-size="10" fill="#e8b3ca">E38</text>
<text x="105.8" y="57.0" font-family="Liberation Sans, Arial, sans-serif" font-size="10" fill="#97dcb3">E28</text>
<text x="126.5" y="57.0" font-family="Liberation Sans, Arial, sans-serif" font-size="10" fill="#97dcb3">E30</text>
<text x="155.8" y="52.8" font-family="Liberation Sans, Arial, sans-serif" font-size="10" fill="#97dcb3">E23</text>
<text x="188.7" y="76.8" font-family="Liberation Sans, Arial, sans-serif" font-size="10" fill="#e8b3ca">E24</text>
<text x="228.5" y="41.8" font-family="Liberation Sans, Arial, sans-serif" font-size="10" fill="#97dcb3">E19</text>
<text x="267.7" y="39.3" font-family="Liberation Sans, Arial, sans-serif" font-size="10" fill="#e8b3ca">E20</text>
<text x="239.0" y="100.0" font-family="Liberation Sans, Arial, sans-serif" font-size="10" fill="#e8b3ca">E21</text>
<text x="344.7" y="40.6" font-family="Liberation Sans, Arial, sans-serif" font-size="10" fill="#97dcb3">E13</text>
<text x="401.1" y="39.6" font-family="Liberation Sans, Arial, sans-serif" font-size="10" fill="#e8b3ca">E15</text>
<text x="126.2" y="174.8" font-family="Liberation Sans, Arial, sans-serif" font-size="10" fill="#aaa2c8">E38</text>
<text x="106.9" y="224.4" font-family="Liberation Sans, Arial, sans-serif" font-size="10" fill="#97dcb3">E37</text>
<text x="160.4" y="223.0" font-family="Liberation Sans, Arial, sans-serif" font-size="10" fill="#97dcb3">E29</text>
<text x="196.6" y="238.3" font-family="Liberation Sans, Arial, sans-serif" font-size="10" fill="#97dcb3">E27</text>
<text x="211.7" y="257.7" font-family="Liberation Sans, Arial, sans-serif" font-size="10" fill="#e8b3ca">E31</text>
<text x="348.9" y="181.0" font-family="Liberation Sans, Arial, sans-serif" font-size="10" fill="#97dcb3">E21</text>
<text x="140.4" y="204.4" font-family="Liberation Sans, Arial, sans-serif" font-size="12.5" fill="#2a67a5" stroke="#2a67a5" stroke-width="0.2">E<tspan font-size="10" font-weight="bold" stroke-width="0" dy="5.5">37</tspan></text>
<text x="212.4" y="193.0" font-family="Liberation Sans, Arial, sans-serif" font-size="12.5" fill="#2a67a5" stroke="#2a67a5" stroke-width="0.2">E<tspan font-size="10" font-weight="bold" stroke-width="0" dy="5.5">30</tspan></text>
<text x="270.1" y="185.3" font-family="Liberation Sans, Arial, sans-serif" font-size="12.5" fill="#2a67a5" stroke="#2a67a5" stroke-width="0.2">E<tspan font-size="10" font-weight="bold" stroke-width="0" dy="5.5">22</tspan></text>
<text x="372.1" y="158.2" font-family="Liberation Sans, Arial, sans-serif" font-size="12.5" fill="#2a67a5" stroke="#2a67a5" stroke-width="0.2">E<tspan font-size="10" font-weight="bold" stroke-width="0" dy="5.5">21</tspan></text>
<rect x="246" y="202.6" width="256.8" height="63.4" fill="#fff" stroke="#111" stroke-width="1.2"/>
<circle cx="272.8" cy="210.4" r="2.9" fill="#c6eaf8" fill-opacity="0.55" stroke="#255d96" stroke-width="1.3"/>
<rect x="270.2" y="219.6" width="5.2" height="5.2" fill="none" stroke="#8edead" stroke-width="1.0"/>
<circle cx="272.8" cy="233.7" r="2.45" fill="#88dda8"/>
<path d="M269.30,233.70L276.30,233.70M270.33,231.23L275.27,236.17M272.80,230.20L272.80,237.20M275.27,231.23L270.33,236.17" stroke="#88dda8" stroke-width="1.4"/>
<path d="M272.8,241.9L276.6,248.5L269.0,248.5Z" fill="none" stroke="#eeb0c7" stroke-width="1.05"/>
<path d="M272.8,254.2L275.7,258.2L272.8,262.2L269.9,258.2Z" fill="none" stroke="#8c8c8c" stroke-width="1.0"/>
<text x="296" y="212.7" font-family="Liberation Sans, Arial, sans-serif" font-size="8.3" font-weight="bold" fill="#111" textLength="125.7" lengthAdjust="spacingAndGlyphs">This Work - Ge:Sb 10<tspan font-size="5.6" dy="-3.4">15</tspan><tspan dy="3.4"> cm</tspan><tspan font-size="5.6" dy="-3.4">-3</tspan><tspan dy="3.4"> (gamma)</tspan></text>
<text x="296" y="224.2" font-family="Liberation Sans, Arial, sans-serif" font-size="8.3" font-weight="bold" fill="#111" textLength="202.5" lengthAdjust="spacingAndGlyphs">Fage-Pedersen et al. - Ge:Sb 3.5×10<tspan font-size="5.6" dy="-3.4">14</tspan><tspan dy="3.4"> cm</tspan><tspan font-size="5.6" dy="-3.4">-3</tspan><tspan dy="3.4">(electron/proton)</tspan></text>
<text x="296" y="235.8" font-family="Liberation Sans, Arial, sans-serif" font-size="8.3" font-weight="bold" fill="#111" textLength="202.5" lengthAdjust="spacingAndGlyphs">Fage-Pedersen et al. - Ge:Sb 1.4×10<tspan font-size="5.6" dy="-3.4">15</tspan><tspan dy="3.4"> cm</tspan><tspan font-size="5.6" dy="-3.4">-3</tspan><tspan dy="3.4">(electron/proton)</tspan></text>
<text x="296" y="247.7" font-family="Liberation Sans, Arial, sans-serif" font-size="8.3" font-weight="bold" fill="#111" textLength="145.3" lengthAdjust="spacingAndGlyphs">Auret et al. - Ge:Sb 2.5×10<tspan font-size="5.6" dy="-3.4">15</tspan><tspan dy="3.4"> cm</tspan><tspan font-size="5.6" dy="-3.4">-3</tspan><tspan dy="3.4">(electron)</tspan></text>
<text x="296" y="259.2" font-family="Liberation Sans, Arial, sans-serif" font-size="8.3" font-weight="bold" fill="#111" textLength="144.3" lengthAdjust="spacingAndGlyphs">Markevich et al. - Ge:Sb 10<tspan font-size="5.6" dy="-3.4">14</tspan><tspan dy="3.4"> cm</tspan><tspan font-size="5.6" dy="-3.4">-3</tspan><tspan dy="3.4"> (gamma)</tspan></text>
</svg>
</body></html>
